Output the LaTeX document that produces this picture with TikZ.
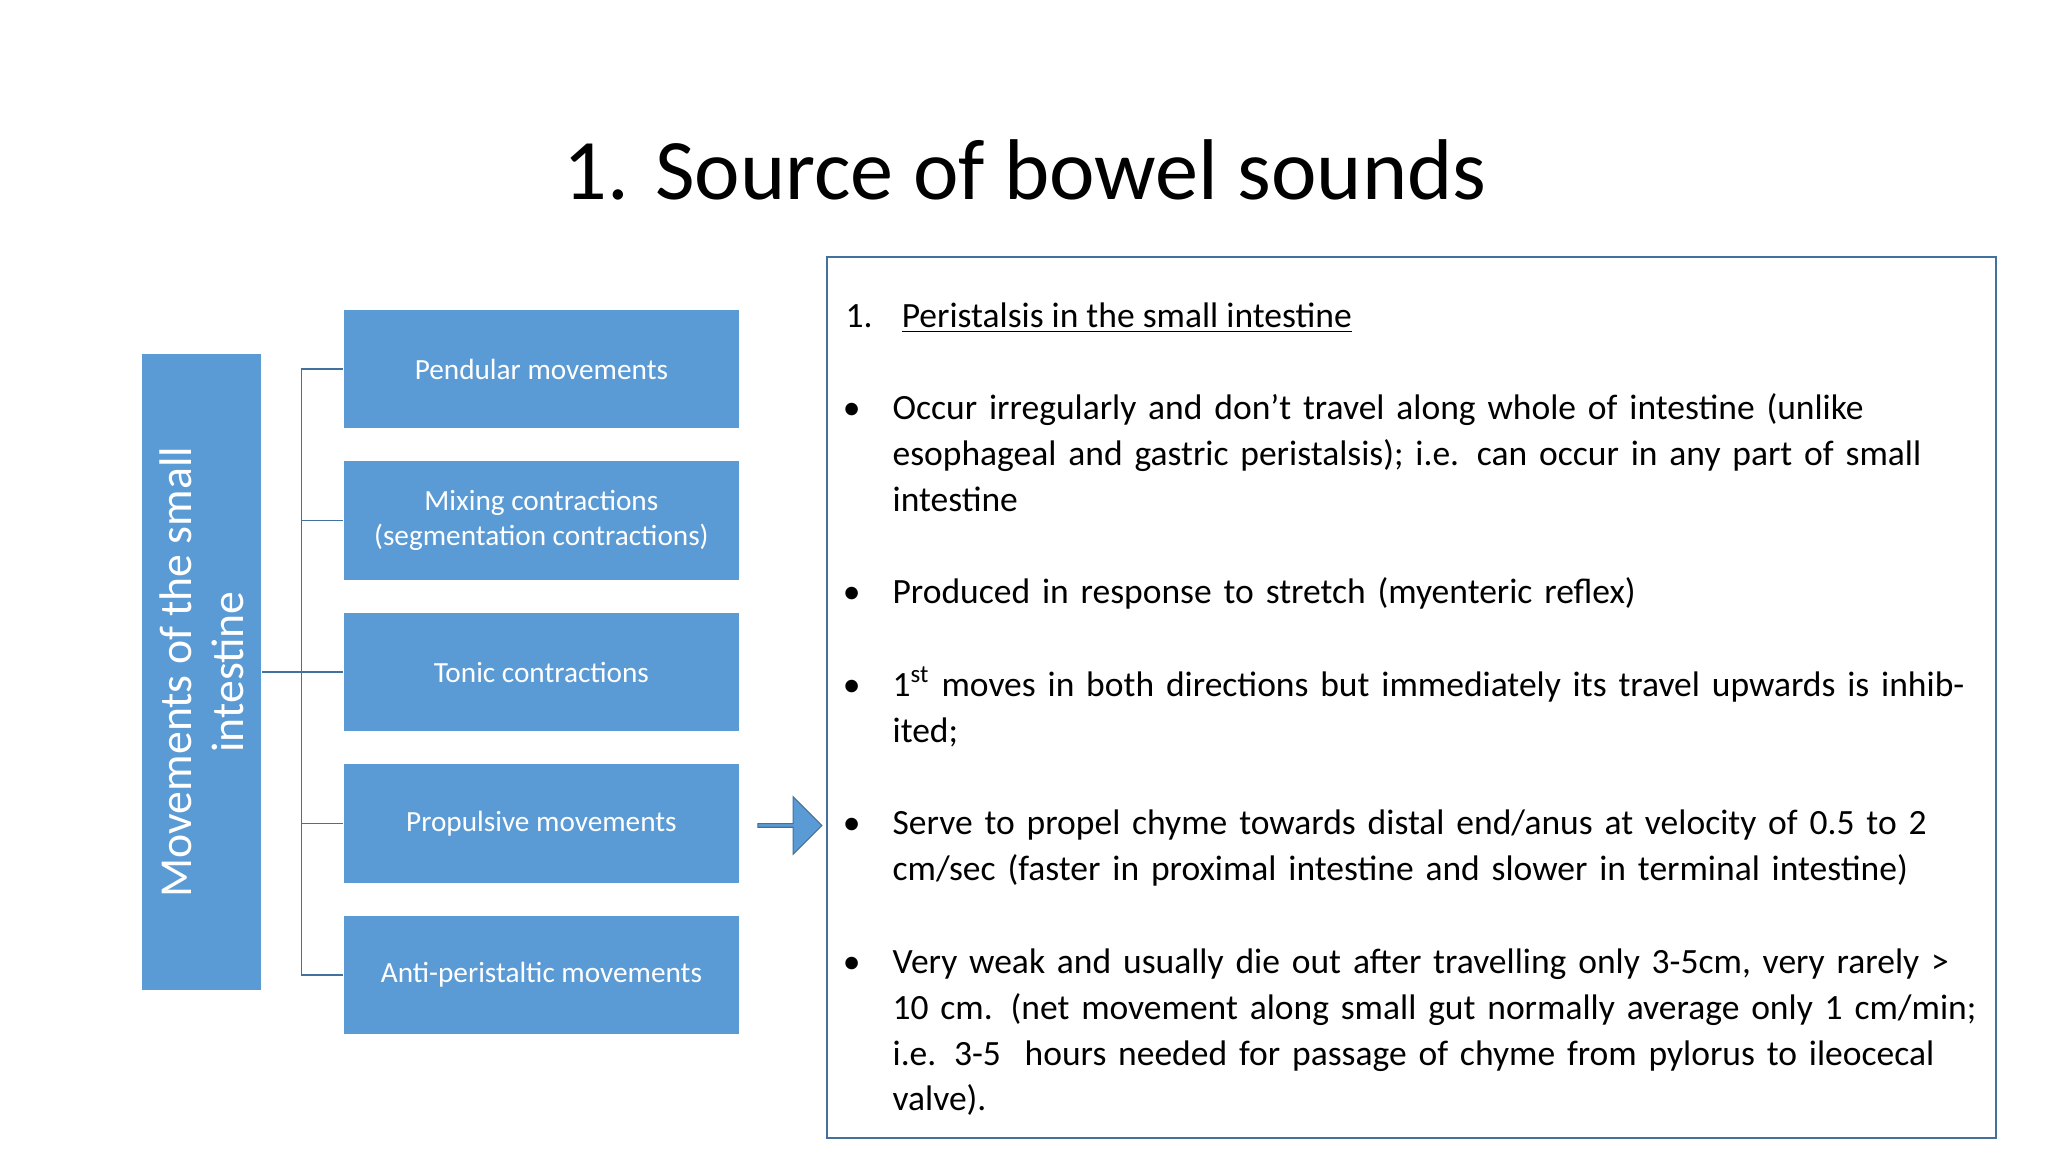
\documentclass[tikz,border=0pt]{standalone}
\usepackage{fontspec}
\setmainfont{Carlito}
\usetikzlibrary{shapes.arrows}
\definecolor{bx}{HTML}{5B9BD5}
\definecolor{ln}{HTML}{41719C}
\begin{document}
\begin{tikzpicture}[x=0.5pt,y=-0.5pt,
  mbox/.style={fill=bx,draw=none,minimum width=151.5pt,minimum height=45.5pt,text=white,font=\fontsize{11.2}{13.5}\selectfont,align=center,inner sep=0pt},
  para/.style={anchor=base west,text width=418pt,align=left,inner sep=0pt,font=\fontsize{13.6}{17.6}\selectfont},
  con/.style={draw=ln,line width=0.5pt}]
\useasboundingbox (0,0) rectangle (1568,882);
\node[font=\fontsize{33}{40}\selectfont] (t) at (785,130) {1. Source of bowel sounds};
\node[fill=bx,minimum width=45.5pt,minimum height=243.5pt,inner sep=0pt] (L) at (154.5,514.5) {};
\node[rotate=90,text=white,align=center,font=\fontsize{17.5}{20}\selectfont] (Lt) at (154.5,514.5) {Movements of the small\\intestine};
\node[mbox] (b1) at (414.5,282.5) {Pendular movements};
\node[mbox] (b2) at (414.5,398.5) {Mixing contractions\\(segmentation contractions)};
\node[mbox] (b3) at (414.5,514.5) {Tonic contractions};
\node[mbox] (b4) at (414.5,630.5) {Propulsive movements};
\node[mbox] (b5) at (414.5,746.5) {Anti-peristaltic movements};
\coordinate (j) at (231,514.5);
\draw[con] (L.east) -- (j);
\foreach \b in {b1,b2,b3,b4,b5} \draw[con] (\b.west) -| (j);
\node[single arrow,fill=bx,draw=ln,line width=0.4pt,minimum height=24.5pt,minimum width=22pt,single arrow head extend=3pt,inner sep=0pt] (ar) at (604,632) {};
\node[draw=ln,line width=0.7pt,minimum width=447.5pt,minimum height=337pt,inner sep=0pt] (R) at (1080.5,534) {};
\node[anchor=base west,inner sep=0pt,font=\fontsize{13.6}{17.6}\selectfont] (n1) at (647,251) {1.};
\node[anchor=base west,inner sep=0pt,font=\fontsize{13.6}{17.6}\selectfont] (h) at (690,251) {\underline{Peristalsis in the small intestine}};
\foreach \y/\n in {321/p1,462/p2,533/p3,639/p4,745/p5}
  \node[anchor=base west,inner sep=0pt,font=\fontsize{13.6}{17.6}\selectfont] (d\n) at (645,\y) {•};
\node[para] (p1) at (683,321) {Occur irregularly and don’t travel along whole of intestine (unlike esophageal and gastric peristalsis); i.e. can occur in any part of small intestine};
\node[para] (p2) at (683,462) {Produced in response to stretch (myenteric reflex)};
\node[para] (p3) at (683,533) {1\textsuperscript{st} moves in both directions but immediately its travel upwards is inhibited;};
\node[para] (p4) at (683,639) {Serve to propel chyme towards distal end/anus at velocity of 0.5 to 2 cm/sec (faster in proximal intestine and slower in terminal intestine)};
\node[para] (p5) at (683,745) {Very weak and usually die out after travelling only 3-5cm, very rarely > 10 cm. (net movement along small gut normally average only 1 cm/min; i.e. 3-5~ hours needed for passage of chyme from pylorus to ileocecal valve).};
\end{tikzpicture}
\end{document}
